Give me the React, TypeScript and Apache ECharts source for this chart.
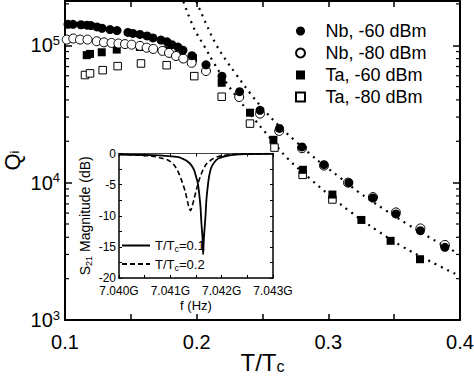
import React, { useEffect, useRef } from 'react';
import * as echarts from 'echarts';

// ---------- main plot data (T/Tc, Qi) ----------
const nb60T = [0.1023, 0.1061, 0.1121, 0.1167, 0.1197, 0.1243, 0.1281, 0.1342, 0.1395, 0.1478, 0.1516, 0.1569, 0.1623, 0.1668, 0.1729, 0.1775, 0.1812, 0.1858, 0.1896, 0.1964, 0.2071, 0.2192, 0.2326, 0.2481, 0.2629, 0.28, 0.2967, 0.3156, 0.3339, 0.3513, 0.3699, 0.3885];
const nb60Q = [1.42e5, 1.42e5, 1.41e5, 1.4e5, 1.39e5, 1.36e5, 1.33e5, 1.3e5, 1.28e5, 1.24e5, 1.22e5, 1.2e5, 1.17e5, 1.13e5, 1.09e5, 1.06e5, 1.01e5, 9.7e4, 9.2e4, 8.4e4, 7.2e4, 5.96e4, 4.59e4, 3.36e4, 2.48e4, 1.82e4, 1.35e4, 1.0e4, 7.73e3, 5.92e3, 4.47e3, 3.38e3];

const nb80T = [0.1013, 0.1063, 0.1114, 0.1171, 0.1241, 0.1296, 0.1353, 0.1406, 0.1456, 0.1506, 0.1569, 0.162, 0.167, 0.174, 0.179, 0.1843, 0.1898, 0.1962, 0.2071, 0.2323, 0.2481, 0.2627, 0.28, 0.2967, 0.3149, 0.3339, 0.3513, 0.3699, 0.3885];
const nb80Q = [1.1e5, 1.12e5, 1.1e5, 1.1e5, 1.07e5, 1.05e5, 1.04e5, 1.03e5, 1.02e5, 1.01e5, 9.9e4, 9.6e4, 9.4e4, 9.1e4, 8.8e4, 8.35e4, 8.0e4, 7.45e4, 6.49e4, 4.2e4, 3.18e4, 2.38e4, 1.78e4, 1.33e4, 1.0e4, 7.85e3, 6.07e3, 4.64e3, 3.52e3];

const ta60T = [0.1165, 0.119, 0.1279, 0.1393, 0.1569, 0.1767, 0.1972, 0.219, 0.2405, 0.2583, 0.2807, 0.3031, 0.3251, 0.3473, 0.3696];
const ta60Q = [8.47e4, 8.65e4, 8.89e4, 9.3e4, 9.72e4, 9.2e4, 8.05e4, 5.33e4, 3.23e4, 2.05e4, 1.24e4, 8.19e3, 5.35e3, 3.77e3, 2.77e3];

const ta80T = [0.1152, 0.119, 0.1286, 0.14, 0.1577, 0.1772, 0.1982, 0.219, 0.2405, 0.2591, 0.2805, 0.3031];
const ta80Q = [6.07e4, 6.24e4, 6.59e4, 7.05e4, 7.37e4, 7.16e4, 5.96e4, 4.22e4, 2.69e4, 1.8e4, 1.14e4, 7.54e3];

// dotted fit curves
const fitNbT = [0.19985, 0.20706, 0.21465, 0.22225, 0.22984, 0.24047, 0.25186, 0.26325, 0.27464, 0.28603, 0.29514, 0.30881, 0.32248, 0.34146, 0.36044, 0.37943, 0.39841];
const fitNbQ = [2.08e5, 1.44e5, 1.017e5, 7.79e4, 6.17e4, 4.49e4, 3.32e4, 2.55e4, 2.02e4, 1.62e4, 1.37e4, 1.09e4, 8.61e3, 6.48e3, 4.96e3, 3.86e3, 3.06e3];
const fitTaT = [0.18998, 0.19795, 0.2063, 0.21314, 0.22377, 0.23288, 0.24427, 0.25566, 0.26933, 0.28603, 0.30122, 0.3164, 0.3369, 0.35588, 0.37714, 0.39841];
const fitTaQ = [2.08e5, 1.33e5, 9.67e4, 7.41e4, 5.13e4, 3.93e4, 2.86e4, 2.12e4, 1.49e4, 1.07e4, 8.05e3, 6.17e3, 4.49e3, 3.44e3, 2.68e3, 2.12e3];

const minorTickQ = [2e3, 3e3, 4e3, 5e3, 6e3, 7e3, 8e3, 9e3, 2e4, 3e4, 4e4, 5e4, 6e4, 7e4, 8e4, 9e4, 2e5];

// ---------- inset data ----------
const F0_GHZ = 7.04;
const solidOffMHz = [0, 0.645, 0.968, 1.161, 1.23, 1.31, 1.4, 1.46, 1.5, 1.535, 1.561, 1.587, 1.606, 1.626, 1.639, 1.652, 1.665, 1.684, 1.703, 1.729, 1.755, 1.794, 1.858, 1.935, 2.129, 2.452, 3.0];
const solidDB = [-0.16, -0.27, -0.43, -0.6, -0.8, -1.13, -1.78, -2.59, -3.67, -4.75, -6.37, -8.54, -11.24, -13.4, -16.2, -13.9, -12.3, -10.2, -7.45, -5.3, -3.67, -2.32, -1.4, -0.81, -0.32, -0.11, -0.05];
const dashOffMHz = [0, 0.387, 0.645, 0.839, 0.968, 1.065, 1.148, 1.226, 1.29, 1.335, 1.368, 1.394, 1.419, 1.458, 1.516, 1.574, 1.639, 1.71, 1.806, 1.935, 2.194, 2.581, 3.0];
const dashDB = [-0.11, -0.27, -0.43, -0.76, -1.13, -1.78, -2.86, -4.48, -6.1, -7.72, -8.8, -9.18, -8.64, -7.45, -5.56, -3.94, -2.59, -1.62, -0.97, -0.49, -0.16, -0.05, -0.02];

const xTickLabels = ['0.1', '0.2', '0.3', '0.4'];
const legendNames = ['Nb, -60 dBm', 'Nb, -80 dBm', 'Ta, -60 dBm', 'Ta, -80 dBm'];
const insetNames = ['T/Tc=0.1', 'T/Tc=0.2'];

const FONT = '"Liberation Sans", Arial, Helvetica, sans-serif';
const SQUARE = 'path://M0,0L10,0L10,10L0,10Z';

export default function App() {
  const ref = useRef<HTMLDivElement>(null);
  useEffect(() => {
    const chart = echarts.init(ref.current!, null, { renderer: 'svg' });
    const zip = (a: number[], b: number[]) => a.map((v, i) => [v, b[i]]);
    const ghz = (off: number[]) => off.map((o) => F0_GHZ + o / 1000);

    const axisLineMain = { show: true, onZero: false, lineStyle: { color: '#000', width: 2 } };
    const axisLineInset = { show: true, onZero: false, lineStyle: { color: '#000', width: 1.5 } };

    const option: any = {
      animation: false,
      backgroundColor: '#fff',
      textStyle: { fontFamily: FONT, color: '#000' },
      grid: [
        { left: 65, right: 14, top: 1, bottom: 56, outerBoundsMode: 'none', containLabel: false },
        {
          left: 119, right: 201, top: 153.5, bottom: 98, outerBoundsMode: 'none', containLabel: false,
          show: true, backgroundColor: '#fff', borderWidth: 0,
        },
      ],
      legend: [
        {
          data: [
            { name: legendNames[0], icon: 'circle' },
            { name: legendNames[1], icon: 'circle' },
            { name: legendNames[2], icon: SQUARE },
            { name: legendNames[3], icon: SQUARE },
          ],
          orient: 'vertical',
          left: 295,
          top: 22,
          padding: 0,
          itemWidth: 40,
          itemHeight: 9,
          itemGap: 4,
          symbolKeepAspect: true,
          textStyle: { fontSize: 18, color: '#000', fontFamily: FONT, lineHeight: 18 },
        },
        {
          data: insetNames,
          orient: 'vertical',
          left: 121,
          top: 239,
          padding: 0,
          itemWidth: 28,
          itemHeight: 10,
          itemGap: 4,
          itemStyle: { color: 'rgba(0,0,0,0)', borderWidth: 0, opacity: 0 },
          formatter: (n: string) => (n === insetNames[0] ? '{a|T/T}{b|c}{a|=0.1}' : '{a|T/T}{b|c}{a|=0.2}'),
          textStyle: {
            color: '#000',
            fontFamily: FONT,
            rich: {
              a: { fontSize: 13, fontFamily: FONT, color: '#000' },
              b: { fontSize: 9, fontFamily: FONT, color: '#000', padding: [7, 0, 0, 0] },
            },
          },
        },
      ],
      xAxis: [
        {
          gridIndex: 0, type: 'value', min: 0.1, max: 0.4, interval: 0.05, position: 'bottom',
          axisLine: axisLineMain,
          axisTick: { inside: true, length: 6, lineStyle: { color: '#000', width: 1.5 } },
          splitLine: { show: false },
          axisLabel: {
            fontSize: 20, color: '#000', fontFamily: FONT, margin: 12,
            formatter: (v: number) => {
              const k = Math.round(v * 10);
              return Math.abs(v * 10 - k) < 1e-6 ? xTickLabels[k - 1] ?? '' : '';
            },
          },
          name: 'T/T{s|c}', nameLocation: 'middle', nameGap: 30, nameMoveOverlap: false,
          nameTextStyle: {
            fontSize: 24, color: '#000', fontFamily: FONT, lineHeight: 24,
            rich: { s: { fontSize: 16, fontFamily: FONT, color: '#000', padding: [9, 0, 0, 0] } },
          },
        },
        {
          gridIndex: 0, type: 'value', min: 0.1, max: 0.4, interval: 0.05, position: 'top',
          axisLine: axisLineMain,
          axisTick: { inside: true, length: 6, lineStyle: { color: '#000', width: 1.5 } },
          splitLine: { show: false }, axisLabel: { show: false },
        },
        {
          gridIndex: 1, type: 'value', min: 7.04, max: 7.043, interval: 0.0005, position: 'bottom',
          axisLine: axisLineInset,
          axisTick: { inside: true, length: 3, lineStyle: { color: '#000', width: 1 } },
          splitLine: { show: false },
          axisLabel: {
            fontSize: 12, lineHeight: 10, color: '#000', fontFamily: FONT, margin: 8,
            formatter: (v: number) => {
              const k = Math.round(v * 2000);
              return k % 2 === 0 ? v.toFixed(3) + 'G' : '';
            },
          },
          name: 'f (Hz)', nameLocation: 'middle', nameGap: 21, nameMoveOverlap: false,
          nameTextStyle: { fontSize: 13, color: '#000', fontFamily: FONT },
        },
        {
          gridIndex: 1, type: 'value', min: 7.04, max: 7.043, interval: 0.0005, position: 'top',
          axisLine: { show: true, onZero: false, lineStyle: { color: '#444', width: 1 } },
          axisTick: { inside: true, length: 3, lineStyle: { color: '#000', width: 1 } },
          splitLine: { show: false }, axisLabel: { show: false },
        },
      ],
      yAxis: [
        {
          gridIndex: 0, type: 'log', logBase: 10, min: 1000, max: 210000, position: 'left',
          axisLine: axisLineMain,
          axisTick: { inside: true, length: 7, lineStyle: { color: '#000', width: 1.5 } },
          splitLine: { show: false },
          axisLabel: {
            color: '#000', fontFamily: FONT, margin: 5,
            formatter: (v: number) => {
              const l = Math.log10(v);
              const e = Math.round(l);
              return Math.abs(l - e) < 1e-6 ? `{b|10}{s|${e}}` : '';
            },
            rich: {
              b: { fontSize: 20, fontFamily: FONT, color: '#000' },
              s: { fontSize: 13, fontFamily: FONT, color: '#000', padding: [0, 0, 10, 0] },
            },
          },
          name: 'Q{s|i}', nameLocation: 'middle', nameGap: 44, nameMoveOverlap: false,
          nameTextStyle: {
            fontSize: 22, color: '#000', fontFamily: FONT, lineHeight: 18,
            rich: { s: { fontSize: 13, fontFamily: FONT, color: '#000', padding: [5, 0, 0, 0] } },
          },
        },
        {
          gridIndex: 0, type: 'log', logBase: 10, min: 1000, max: 210000, position: 'right',
          axisLine: axisLineMain,
          axisTick: { inside: true, length: 7, lineStyle: { color: '#000', width: 1.5 } },
          splitLine: { show: false }, axisLabel: { show: false },
        },
        {
          gridIndex: 1, type: 'value', min: -20, max: 0, interval: 2.5, position: 'left',
          axisLine: axisLineInset,
          axisTick: { inside: true, length: 3, lineStyle: { color: '#000', width: 1 } },
          splitLine: { show: false },
          axisLabel: {
            fontSize: 12, lineHeight: 10, color: '#000', fontFamily: FONT, margin: 3,
            formatter: (v: number) => (Math.abs(v % 5) < 1e-6 ? String(v) : ''),
          },
          name: 'S{s|21} Magnitude (dB)', nameLocation: 'middle', nameGap: 26, nameMoveOverlap: false,
          nameTextStyle: {
            fontSize: 14, color: '#000', fontFamily: FONT,
            rich: { s: { fontSize: 9, fontFamily: FONT, color: '#000', padding: [7, 0, 0, 0] } },
          },
        },
        {
          gridIndex: 1, type: 'value', min: -20, max: 0, interval: 2.5, position: 'right',
          axisLine: axisLineInset,
          axisTick: { inside: true, length: 3, lineStyle: { color: '#000', width: 1 } },
          splitLine: { show: false }, axisLabel: { show: false },
        },
      ],
      series: [
        {
          name: 'fitNb', type: 'line', xAxisIndex: 0, yAxisIndex: 0, data: zip(fitNbT, fitNbQ),
          smooth: 0.4, symbol: 'none', silent: true, z: 1,
          lineStyle: { color: '#000', width: 2.2, type: [2, 5] },
        },
        {
          name: 'fitTa', type: 'line', xAxisIndex: 0, yAxisIndex: 0, data: zip(fitTaT, fitTaQ),
          smooth: 0.4, symbol: 'none', silent: true, z: 1,
          lineStyle: { color: '#000', width: 2.2, type: [2, 5] },
        },
        {
          name: legendNames[3], type: 'scatter', xAxisIndex: 0, yAxisIndex: 0, data: zip(ta80T, ta80Q),
          symbol: 'rect', symbolSize: 7.5, z: 3,
          itemStyle: { color: '#fff', borderColor: '#000', borderWidth: 1, opacity: 1 },
        },
        {
          name: legendNames[2], type: 'scatter', xAxisIndex: 0, yAxisIndex: 0, data: zip(ta60T, ta60Q),
          symbol: 'rect', symbolSize: 8, z: 3,
          itemStyle: { color: '#000', borderColor: '#000', borderWidth: 0, opacity: 1 },
        },
        {
          name: legendNames[1], type: 'scatter', xAxisIndex: 0, yAxisIndex: 0, data: zip(nb80T, nb80Q),
          symbol: 'circle', symbolSize: 9, z: 3,
          itemStyle: { color: '#fff', borderColor: '#000', borderWidth: 1, opacity: 1 },
        },
        {
          name: legendNames[0], type: 'scatter', xAxisIndex: 0, yAxisIndex: 0, data: zip(nb60T, nb60Q),
          symbol: 'circle', symbolSize: 9, z: 3,
          itemStyle: { color: '#000', borderColor: '#000', borderWidth: 0, opacity: 1 },
        },
        {
          name: 'minorTicks', type: 'custom', xAxisIndex: 0, yAxisIndex: 0, silent: true, z: 4,
          data: minorTickQ.map((q) => [0.1, q]),
          renderItem: (_p: any, api: any) => {
            const v = api.value(1);
            const l = api.coord([0.1, v]);
            const r = api.coord([0.4, v]);
            return {
              type: 'group',
              children: [
                { type: 'line', shape: { x1: l[0], y1: l[1], x2: l[0] + 4, y2: l[1] }, style: { stroke: '#000', lineWidth: 1.2 } },
                { type: 'line', shape: { x1: r[0] - 4, y1: r[1], x2: r[0], y2: r[1] }, style: { stroke: '#000', lineWidth: 1.2 } },
              ],
            };
          },
        },
        {
          name: insetNames[1], type: 'line', xAxisIndex: 2, yAxisIndex: 2, data: zip(ghz(dashOffMHz), dashDB),
          smooth: 0.3, symbol: 'none', z: 5,
          lineStyle: { color: '#000', width: 1.6, type: [5, 3] },
          itemStyle: { color: '#000' },
        },
        {
          name: insetNames[0], type: 'line', xAxisIndex: 2, yAxisIndex: 2, data: zip(ghz(solidOffMHz), solidDB),
          smooth: 0.3, symbol: 'none', z: 5,
          lineStyle: { color: '#000', width: 1.8, type: 'solid' },
          itemStyle: { color: '#000' },
        },
      ],
    };
    chart.setOption(option);
    return () => chart.dispose();
  }, []);
  return (
    <div
      ref={ref}
      style={{ position: 'fixed', left: 0, top: 0, width: 474, height: 376, background: '#fff' }}
    />
  );
}
